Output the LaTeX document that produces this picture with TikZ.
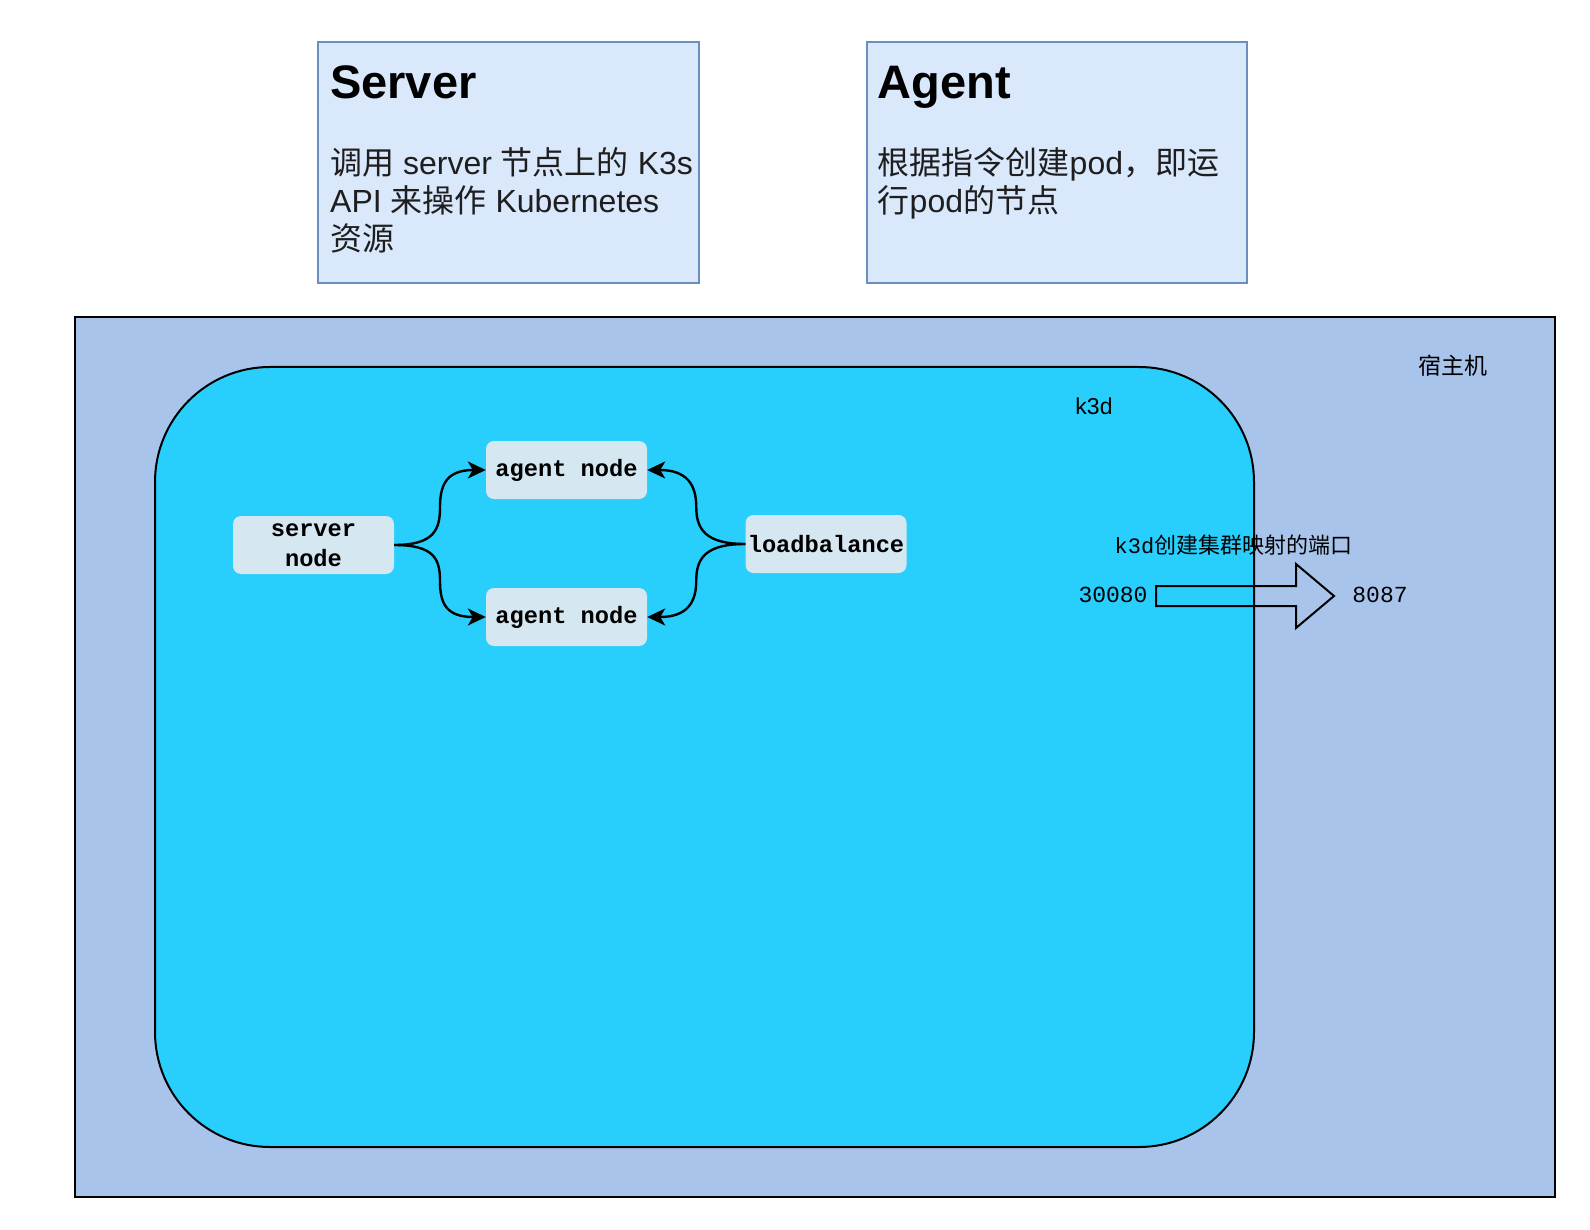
\documentclass[tikz,border=0pt]{standalone}
\usepackage{fontspec}
\setmainfont{Liberation Sans}
\newfontfamily\cjk{Noto Sans CJK SC}
\newfontfamily\mono{Liberation Mono}
\usetikzlibrary{arrows.meta,calc}
\definecolor{infofill}{RGB}{218,232,252}
\definecolor{infodraw}{RGB}{108,142,191}
\definecolor{hostfill}{RGB}{169,196,235}
\definecolor{kfill}{RGB}{40,206,252}
\definecolor{nodefill}{RGB}{213,231,240}
\definecolor{bodytext}{RGB}{30,30,30}
\begin{document}
\begin{tikzpicture}[x=1pt,y=-1pt,
  infobox/.style={draw=infodraw,fill=infofill,line width=2pt},
  titletext/.style={anchor=base west,inner sep=0pt,font=\fontsize{47}{56}\selectfont\bfseries},
  bodytxt/.style={anchor=base west,inner sep=0pt,text=bodytext,font=\fontsize{32}{38}\selectfont},
  knode/.style={fill=nodefill,rounded corners=8pt,minimum width=161pt,minimum height=58pt,inner sep=0pt,align=center,font=\fontsize{23.7}{30}\selectfont\mono\bfseries},
  conn/.style={line width=2.4pt,-{Stealth[length=18pt,width=17pt,inset=5pt]}},
  smalltext/.style={inner sep=0pt,font=\fontsize{23}{28}\selectfont}]
\useasboundingbox (0,0) rectangle (1590,1230);
\fill[white] (0,0) rectangle (1590,1230);
% info boxes
\draw[infobox] (318,42) rectangle (699,283);
\node[titletext] (servertitle) at (330,99) {Server};
\node[bodytxt] (serverl1) at (330,174.5) {{\cjk 调用} server {\cjk 节点上的} K3s};
\node[bodytxt] (serverl2) at (330,212.5) {API {\cjk 来操作} Kubernetes};
\node[bodytxt] (serverl3) at (330,250.5) {\cjk 资源};
\draw[infobox] (867,42) rectangle (1247,283);
\node[titletext] (agenttitle) at (877.5,99) {Agent};
\node[bodytxt] (agentl1) at (877.5,174.5) {{\cjk 根据指令创建}pod{\cjk ，即运}};
\node[bodytxt] (agentl2) at (877.5,212.5) {{\cjk 行}pod{\cjk 的节点}};
% host
\draw[fill=hostfill,line width=2pt] (75,317) rectangle (1555,1197);
\node[smalltext] (host) at (1453,366) {\cjk 宿主机};
% k3d
\draw[fill=kfill,line width=2pt,rounded corners=115pt] (155,367) rectangle (1254,1147);
\node[smalltext] (k3d) at (1094,406) {k3d};
% nodes
\node[knode] (srv) at (313.5,545) {server\\node};
\node[knode] (ag1) at (566.5,470) {agent node};
\node[knode] (ag2) at (566.5,617) {agent node};
\node[knode] (lb) at (826,544) {loadbalance};
\coordinate (m1) at ($(srv.east)!0.5!(ag1.west)$);
\coordinate (m2) at ($(srv.east)!0.5!(ag2.west)$);
\coordinate (m3) at ($(lb.west)!0.5!(ag1.east)$);
\coordinate (m4) at ($(lb.west)!0.5!(ag2.east)$);
\draw[conn] (srv.east) .. controls +(40,0) and +(0,22) .. (m1) .. controls +(0,-22) and +(-40,0) .. (ag1.west);
\draw[conn] (srv.east) .. controls +(40,0) and +(0,-22) .. (m2) .. controls +(0,22) and +(-40,0) .. (ag2.west);
\draw[conn] (lb.west) .. controls +(-40,0) and +(0,22) .. (m3) .. controls +(0,-22) and +(40,0) .. (ag1.east);
\draw[conn] (lb.west) .. controls +(-40,0) and +(0,-22) .. (m4) .. controls +(0,22) and +(40,0) .. (ag2.east);
% port mapping
\node[inner sep=0pt,font=\fontsize{22}{26}\selectfont] (maplabel) at (1233.5,545) {{\mono k3d}{\cjk 创建集群映射的端口}};
\node[inner sep=0pt,font=\fontsize{23}{28}\selectfont\mono] (p1) at (1113,595) {30080};
\node[inner sep=0pt,font=\fontsize{23}{28}\selectfont\mono] (p2) at (1380,595) {8087};
\draw[line width=2pt,line join=miter] (1156,586) -- (1296,586) -- (1296,564) -- (1334,596) -- (1296,628) -- (1296,606) -- (1156,606) -- cycle;
\end{tikzpicture}
\end{document}
